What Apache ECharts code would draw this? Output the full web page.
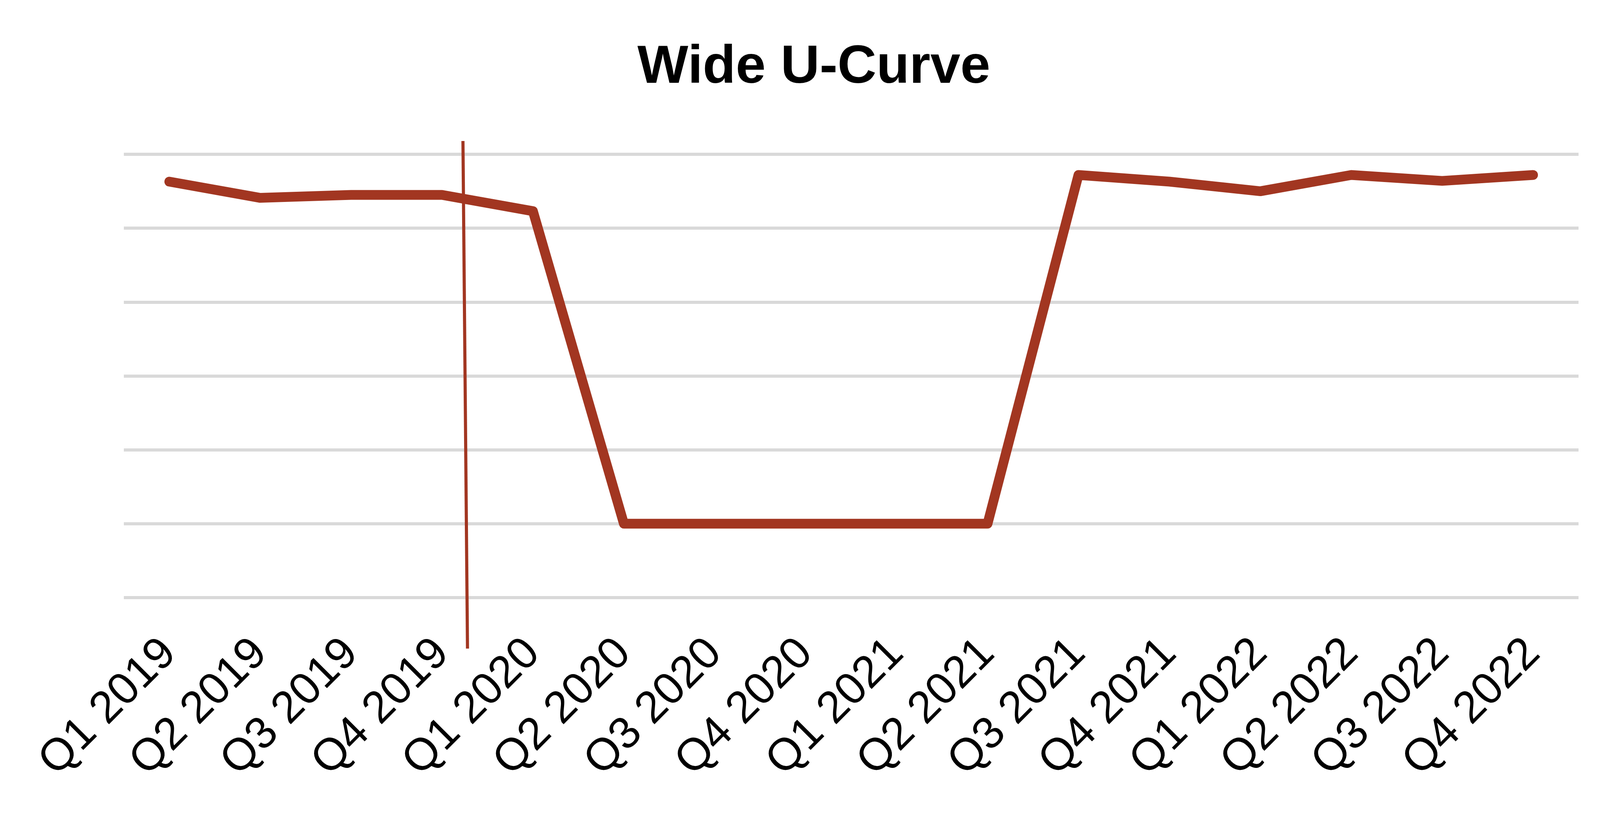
<!DOCTYPE html>
<html>
<head>
<meta charset="utf-8">
<title>Wide U-Curve</title>
<script src="https://cdn.jsdelivr.net/npm/echarts@6/dist/echarts.min.js"></script>
<style>
    html, body { margin: 0; padding: 0; background: #ffffff; }
    #chart-container { width: 4167px; height: 2084px; }
</style>
</head>
<body>
<div id="chart-container"></div>
<script>
// quarters on the x axis
var quarters = ['Q1 2019', 'Q2 2019', 'Q3 2019', 'Q4 2019',
    'Q1 2020', 'Q2 2020', 'Q3 2020', 'Q4 2020',
    'Q1 2021', 'Q2 2021', 'Q3 2021', 'Q4 2021',
    'Q1 2022', 'Q2 2022', 'Q3 2022', 'Q4 2022'];
// values (axis 0..60, labels hidden)
var values = [56.3, 54.1, 54.5, 54.5,
    52.3, 10, 10, 10,
    10, 10, 57.2, 56.3,
    55.0, 57.2, 56.4, 57.2];
// thin marker line between Q4 2019 and Q1 2020: [category position, value]
var markerLine = [[3.23, 61.8], [3.28, -6.9]];

var lineColor = '#A23621';

var option = {
    backgroundColor: '#ffffff',
    animation: false,
    title: {
        text: 'Wide U-Curve',
        left: 'center',
        top: 100,
        textStyle: {
            fontFamily: 'Liberation Sans',
            fontWeight: 'bold',
            fontSize: 138,
            color: '#000000'
        }
    },
    grid: {
        left: 317,
        right: 126,
        top: 395,
        bottom: 554
    },
    xAxis: [
        {
            type: 'category',
            data: quarters,
            boundaryGap: true,
            axisLine: { show: false },
            axisTick: { show: false },
            axisLabel: {
                rotate: 45,
                interval: 0,
                margin: 125,
                fontFamily: 'Liberation Sans',
                fontSize: 115,
                color: '#000000'
            }
        },
        {
            // hidden helper axis so the marker line can sit between categories
            type: 'value',
            min: -0.5,
            max: quarters.length - 0.5,
            show: false
        }
    ],
    yAxis: {
        type: 'value',
        min: 0,
        max: 60,
        interval: 10,
        axisLine: { show: false },
        axisTick: { show: false },
        axisLabel: { show: false },
        splitLine: {
            lineStyle: { color: '#D9D9D9', width: 8 }
        }
    },
    series: [
        {
            type: 'line',
            data: values,
            symbol: 'none',
            lineStyle: {
                color: lineColor,
                width: 25,
                cap: 'round',
                join: 'round'
            },
            z: 3
        },
        {
            type: 'line',
            xAxisIndex: 1,
            data: markerLine,
            symbol: 'none',
            clip: false,
            lineStyle: {
                color: lineColor,
                width: 8
            },
            z: 4
        }
    ]
};

var myChart = echarts.init(document.getElementById('chart-container'));
myChart.setOption(option);
</script>
</body>
</html>
